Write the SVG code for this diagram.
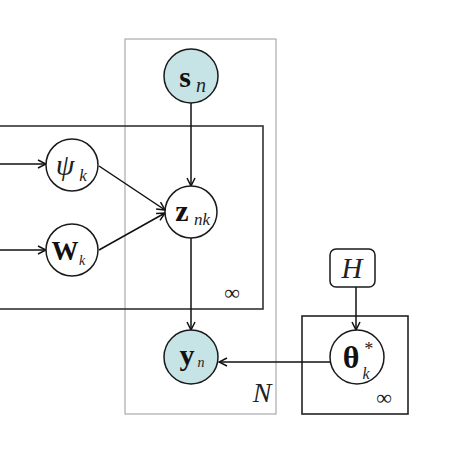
<svg xmlns="http://www.w3.org/2000/svg" width="474" height="474" viewBox="0 0 474 474">
<style>
.node{stroke:#1a1a1a;stroke-width:1.5;fill:#fff}
.obs{fill:#c6e3e6}
.plate{fill:none}
.edge{stroke:#111;stroke-width:1.5;fill:none;marker-end:url(#arr)}
.b{font-family:"Liberation Serif",serif;font-weight:bold;fill:#111}
.i{font-family:"Liberation Serif",serif;font-style:italic;fill:#222}
.inf{font-family:"Liberation Serif",serif;fill:#222}
</style>
<defs>
<marker id="arr" markerWidth="10" markerHeight="10" refX="9" refY="5" orient="auto" markerUnits="userSpaceOnUse">
<path d="M1,1 L9,5 L1,9" fill="none" stroke="#111" stroke-width="1.5"/>
</marker>
</defs>
<rect width="474" height="474" fill="#fff"/>
<g id="plates">
<rect x="125" y="39" width="151" height="375" class="plate" stroke="#999" stroke-width="1"/>
<rect x="-2" y="126" width="265" height="183" class="plate" stroke="#333" stroke-width="1.6"/>
<rect x="302" y="316" width="106" height="98" class="plate" stroke="#222" stroke-width="1.6"/>
<text x="262" y="402" class="i" font-size="28" text-anchor="middle" fill="#444">N</text>
<text x="232" y="300" class="inf" font-size="22" text-anchor="middle">∞</text>
<text x="384" y="405" class="inf" font-size="22" text-anchor="middle">∞</text>
</g>
<g id="connectors">
<path class="edge" d="M0,164 L46,164"/>
<path class="edge" d="M0,250 L46,250"/>
<path class="edge" d="M99,166 L165,210"/>
<path class="edge" d="M99,250 L165,213"/>
<path class="edge" d="M191,103 L191,186"/>
<path class="edge" d="M191,238 L191,330"/>
<path class="edge" d="M356,287 L356,330"/>
<path class="edge" d="M330,362 L219,362"/>
</g>
<g id="s_n">
<circle cx="191" cy="76" r="27" class="node obs"/>
<text x="185" y="87" class="b" font-size="30" text-anchor="middle">s</text>
<text x="201" y="92" class="i" font-size="20" text-anchor="middle">n</text>
</g>
<g id="psi_k">
<circle cx="72" cy="165" r="26" class="node" stroke="#888"/>
<text x="65" y="175" class="i" font-size="30" text-anchor="middle">ψ</text>
<text x="83" y="181" class="i" font-size="17" text-anchor="middle">k</text>
</g>
<g id="W_k">
<circle cx="72" cy="250" r="26" class="node"/>
<text x="65" y="260" class="b" font-size="27" text-anchor="middle">W</text>
<text x="82" y="265" class="i" font-size="14" text-anchor="middle">k</text>
</g>
<g id="z_nk">
<circle cx="191" cy="212" r="26" class="node"/>
<text x="182" y="221" class="b" font-size="30" text-anchor="middle">z</text>
<text x="202" y="225" class="i" font-size="17" text-anchor="middle">nk</text>
</g>
<g id="y_n">
<circle cx="191" cy="357" r="27" class="node obs"/>
<text x="187" y="365" class="b" font-size="30" text-anchor="middle">y</text>
<text x="201" y="367" class="i" font-size="14" text-anchor="middle">n</text>
</g>
<g id="H">
<rect x="330" y="249" width="45" height="38" rx="6" class="node"/>
<text x="352" y="278" class="i" font-size="29" text-anchor="middle">H</text>
</g>
<g id="theta_k">
<circle cx="357" cy="357" r="27" class="node"/>
<text x="351" y="368" class="b" font-size="32" text-anchor="middle">θ</text>
<text x="368" y="355" class="i" font-size="18" text-anchor="middle">*</text>
<text x="366" y="379" class="i" font-size="16" text-anchor="middle">k</text>
</g>
</svg>
